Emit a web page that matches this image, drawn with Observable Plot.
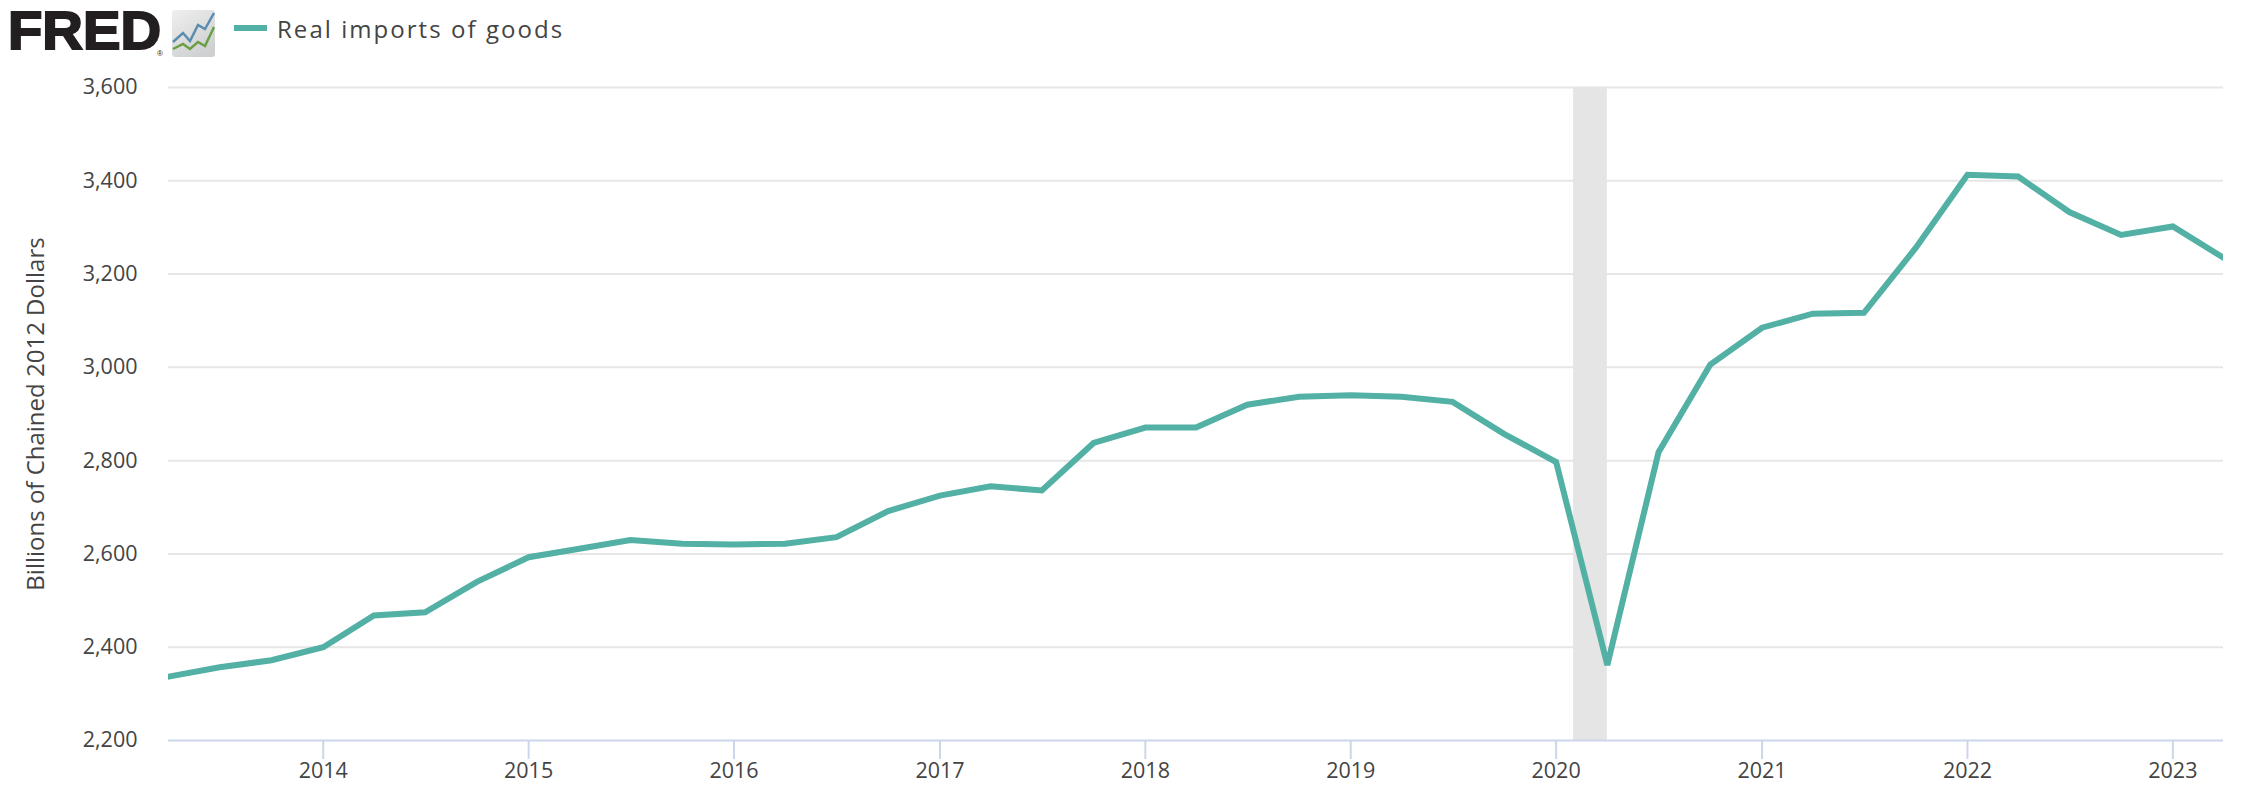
<!DOCTYPE html>
<html>
<head>
<meta charset="utf-8">
<script src="https://cdn.jsdelivr.net/npm/d3@7"></script>
<script src="https://cdn.jsdelivr.net/npm/@observablehq/plot@0.6"></script>
<style>
  html, body { margin: 0; padding: 0; background: #fff; }
  #wrap { position: relative; width: 2256px; height: 802px; overflow: hidden; font-family: "Open Sans", sans-serif; }
  #logo { position: absolute; left: 0; top: 0; }
  #legend { position: absolute; left: 234px; top: 12px; display: flex; align-items: center; height: 32px; }
  #swatch { width: 33px; height: 6px; background: #52b0a4; margin-right: 10px; }
  #legendText { font-size: 24px; letter-spacing: 2.05px; color: #444; font-weight: 500; white-space: nowrap; }
  #wrap svg.plot { display: block; }
</style>
</head>
<body>
<div id="wrap">
  <div id="chart"></div>
  <svg id="logo" width="230" height="62" viewBox="0 0 230 62">
    <text x="8" y="49" font-family="Liberation Sans" font-weight="700" font-size="54" fill="#231f20" stroke="#231f20" stroke-width="2" textLength="153" lengthAdjust="spacingAndGlyphs">FRED</text>
    <text x="157" y="56" font-family="Liberation Sans" font-size="8" fill="#231f20">®</text>
    <defs><linearGradient id="g" x1="0" y1="0" x2="0.6" y2="1"><stop offset="0" stop-color="#efefef"/><stop offset="1" stop-color="#cfd0d1"/></linearGradient></defs>
    <rect x="172" y="10" width="43" height="47" rx="3" fill="url(#g)"/>
    <polyline points="173,42 183,33 190,41 198,25 205,29 214,13" fill="none" stroke="#5b8db0" stroke-width="2.5"/>
    <polyline points="173,49 183,44 190,49 198,42 205,46 214,27" fill="none" stroke="#6a9f45" stroke-width="2.5"/>
  </svg>
  <div id="legend"><span id="swatch"></span><span id="legendText">Real imports of goods</span></div>
</div>
<script>
const seriesName = "Real imports of goods";
const yAxisLabel = "Billions of Chained 2012 Dollars";
const quarters = [
  "2013-04-01","2013-07-01","2013-10-01",
  "2014-01-01","2014-04-01","2014-07-01","2014-10-01",
  "2015-01-01","2015-04-01","2015-07-01","2015-10-01",
  "2016-01-01","2016-04-01","2016-07-01","2016-10-01",
  "2017-01-01","2017-04-01","2017-07-01","2017-10-01",
  "2018-01-01","2018-04-01","2018-07-01","2018-10-01",
  "2019-01-01","2019-04-01","2019-07-01","2019-10-01",
  "2020-01-01","2020-04-01","2020-07-01","2020-10-01",
  "2021-01-01","2021-04-01","2021-07-01","2021-10-01",
  "2022-01-01","2022-04-01","2022-07-01","2022-10-01",
  "2023-01-01","2023-04-01"
];
const imports = [
  2337,2357,2372,
  2400,2468,2475,2540,
  2593,2611,2630,2622,
  2620,2622,2636,2692,
  2725,2745,2736,2838,
  2871,2871,2920,2937,
  2940,2937,2926,2857,
  2797,2362,2818,3006,
  3085,3115,3117,3256,
  3413,3409,3333,3284,
  3302,3235
];
const recessionStart = ["2020-02-01"];
const recessionEnd = ["2020-04-01"];
const yTicks = [2200,2400,2600,2800,3000,3200,3400,3600];
const xTickYears = ["2014","2015","2016","2017","2018","2019","2020","2021","2022","2023"];

const rows = quarters.map((q, i) => ({date: new Date(q), value: imports[i]}));
const recessions = recessionStart.map((s, i) => ({start: new Date(s), end: new Date(recessionEnd[i])}));

const chart = Plot.plot({
  width: 2256,
  height: 802,
  marginLeft: 168,
  marginRight: 33,
  marginTop: 87,
  marginBottom: 62,
  style: {fontFamily: "'Open Sans', sans-serif", fontSize: "21.5px", color: "#444", background: "#fff"},
  x: {type: "utc", domain: [new Date(quarters[0]), new Date(quarters[quarters.length - 1])]},
  y: {domain: [2200, 3600]},
  marks: [
    Plot.ruleY(yTicks.slice(1), {stroke: "#e6e6e6", strokeWidth: 2, strokeOpacity: 1}),
    Plot.rectX(recessions, {x1: "start", x2: "end", fill: "#e5e5e5"}),
    Plot.ruleY([2200], {stroke: "#ccd6eb", strokeWidth: 2}),
    Plot.axisY({ticks: yTicks, tickSize: 0, tickPadding: 31, tickFormat: d3.format(","), label: null, fill: "#444", fontSize: 21.5}),
    Plot.axisY({ticks: [], label: yAxisLabel, labelAnchor: "center", labelArrow: "none", labelOffset: 142, fill: "#444", fontSize: 24}),
    Plot.axisX({ticks: xTickYears.map(y => new Date(y + "-01-01")), tickSize: 19, tickPadding: 3, tickFormat: d3.utcFormat("%Y"), stroke: "#ccd6eb", strokeWidth: 2, strokeOpacity: 1, label: null, fill: "#444", fontSize: 21.5}),
    Plot.line(rows, {x: "date", y: "value", stroke: "#52b0a4", strokeWidth: 6, curve: "linear", strokeLinejoin: "miter", strokeMiterlimit: 3, clip: true})
  ]
});
document.getElementById("chart").appendChild(chart);
</script>
</body>
</html>
